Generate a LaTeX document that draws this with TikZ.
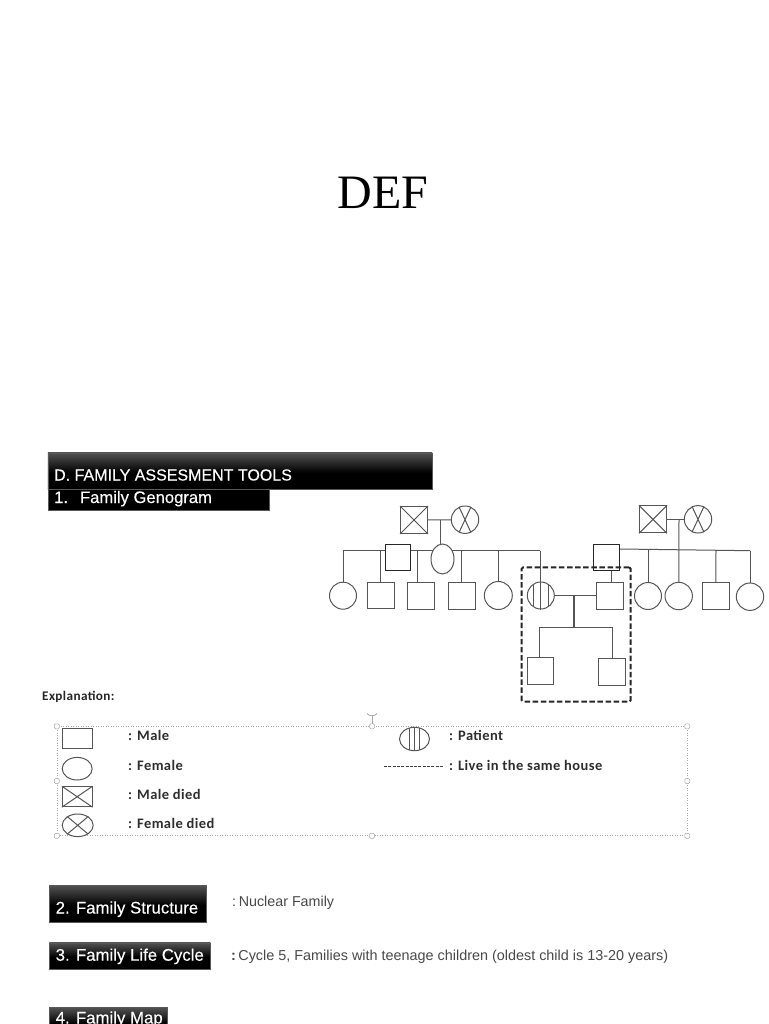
\documentclass[tikz,border=0pt]{standalone}
\usepackage{fontspec}
\setmainfont{Liberation Sans}
\newfontfamily\titlefont{Liberation Serif}
\newfontfamily\legendfont[LetterSpace=3]{Carlito}
\newfontfamily\barfont[FakeBold=0.35]{Liberation Sans}
\usetikzlibrary{shapes.geometric,backgrounds}
\definecolor{linegray}{HTML}{555555}
\definecolor{bodygray}{HTML}{484848}
\definecolor{legendtext}{HTML}{2E2E2E}
\pgfdeclareverticalshading{barshade}{100bp}{
  color(0bp)=(black); color(48bp)=(black); color(75bp)=(black!68); color(100bp)=(black!68)}
\tikzset{
  sq/.style={rectangle,draw=linegray,fill=white,line width=1pt,minimum size=#1,inner sep=0pt},
  sqdark/.style={rectangle,draw=black!85,fill=white,line width=1pt,minimum size=#1,inner sep=0pt},
  circ/.style={circle,draw=linegray,fill=white,line width=1pt,minimum size=#1,inner sep=0pt},
  ell/.style n args={2}{ellipse,draw=linegray,fill=white,line width=1pt,minimum width=#1,minimum height=#2,inner sep=0pt},
  conn/.style={draw=linegray,line width=1pt},
  darkbar/.style n args={2}{rectangle,anchor=north west,minimum width=#1,minimum height=#2,inner sep=0pt,shading=barshade,draw=black!65,line width=.3pt},
  flatbar/.style n args={2}{rectangle,anchor=north west,minimum width=#1,minimum height=#2,inner sep=0pt,fill=black,draw=black!65,line width=.3pt},
  barlabel/.style={anchor=base west,text=white,inner sep=0pt,font=\barfont\fontsize{#1}{#1}\selectfont},
  bodytext/.style={anchor=base west,text=bodygray,inner sep=0pt,font=\fontsize{#1}{#1}\selectfont},
  legendlabel/.style={anchor=base west,text=legendtext,inner sep=0pt,font=\legendfont\bfseries\fontsize{14.5}{14.5}\selectfont},
  handle/.style={rectangle,rounded corners=1.2pt,draw=black!35,fill=white,line width=.5pt,minimum size=5pt,inner sep=0pt},
  legendline/.style={draw=linegray,line width=1pt},
}
\begin{document}
\begin{tikzpicture}[x=1pt,y=-1pt]
\useasboundingbox (0,0) rectangle (768,1024);
\clip (0,0) rectangle (768,1024);
\node[anchor=center,inner sep=0pt,font=\titlefont\fontsize{48}{48}\selectfont] (title) at (383,192.5) {DEF};

% headers
\node[flatbar={221pt}{20.7pt}] (hdrB) at (47.7,489.3) {};
\node[darkbar={384.3pt}{36.6pt}] (hdrA) at (47.7,452.7) {};
\node[barlabel=16] (hdrAt) at (54,480.5) {D. FAMILY ASSESMENT TOOLS};
\node[barlabel=16.6] (hdrBt) at (54,503) {1.\hspace{12pt}Family Genogram};

% left grandparents
\node[sq=27pt] (gfL) at (414,520) {};
\draw[conn] (gfL.north west) -- (gfL.south east) (gfL.north east) -- (gfL.south west);
\node[circ=27.4pt] (gmL) at (465,519.7) {};
\draw[conn] (gmL.65) -- (gmL.-115) (gmL.115) -- (gmL.-65);
\coordinate (jL) at (440,519.7);
% right grandparents
\node[sq=27pt] (gfR) at (653,519.3) {};
\draw[conn] (gfR.north west) -- (gfR.south east) (gfR.north east) -- (gfR.south west);
\node[circ=27.4pt] (gmR) at (698,519.3) {};
\draw[conn] (gmR.65) -- (gmR.-115) (gmR.115) -- (gmR.-65);
\coordinate (jR) at (679,519.3);

% parents generation
\node[sqdark=25.6pt] (uncle) at (398,557.5) {};
\node[ell={23pt}{30pt}] (aunt) at (442.5,559) {};
\node[sqdark=26pt] (rightfather) at (606.7,557.5) {};

% children row left
\node[circ=27pt] (a1) at (343,595.7) {};
\node[sq=26.5pt] (a2) at (380.8,595.5) {};
\node[sq=27pt] (a3) at (421.3,595.5) {};
\node[sq=27pt] (a4) at (461.7,595.5) {};
\node[circ=28pt] (a5) at (498.3,595.5) {};
\node[circ=27pt] (patient) at (540.8,595.5) {};
\node[sq=27pt] (husband) at (609.5,595.5) {};
% children row right
\node[circ=27pt] (b1) at (648,596) {};
\node[circ=27.4pt] (b2) at (678.7,596) {};
\node[sq=27pt] (b3) at (715.7,596.3) {};
\node[circ=27.4pt] (b4) at (750,596.7) {};
% nuclear children
\node[sq=26.7pt] (k1) at (540.5,671) {};
\node[sq=27pt] (k2) at (611.7,672) {};

% patient stripes
\draw[conn] (patient.122) -- (patient.-122) (patient.90) -- (patient.-90) (patient.58) -- (patient.-58);

\begin{scope}[on background layer]
  \coordinate (sL) at (343,550.7);
  \coordinate (sR) at (540,550.7);
  \coordinate (s2) at (380.8,550.7);
  \coordinate (s3) at (417.7,550.7);
  \coordinate (s4) at (461,550.7);
  \coordinate (s5) at (498.7,550.7);
  \draw[conn] (gfL) -- (gmL);
  \draw[conn] (jL) -- (aunt.north -| jL);
  \draw[conn] (sL) -- (sR);
  \draw[conn] (sL) -- (a1);
  \draw[conn] (s2) -- (a2);
  \draw[conn] (s3) -- (s3 |- a3.north);
  \draw[conn] (s4) -- (s4 |- a4.north);
  \draw[conn] (s5) -- (s5 |- a5.north);
  \draw[conn] (sR) -- (sR |- patient.north);
  \coordinate (tR) at (750,550.7);
  \coordinate (t1) at (648,549.9);
  \coordinate (t3) at (716,550.7);
  \draw[conn] (gfR) -- (gmR);
  \draw[conn] (jR) -- (b2);
  \draw[conn] (rightfather.east |- 0,549) -- (tR);
  \draw[conn] (t1) -- (b1);
  \draw[conn] (t3) -- (b3);
  \draw[conn] (tR) -- (b4);
  \coordinate (hj) at (611.7,570.5);
  \draw[conn] (hj) -- (hj |- husband.north);
  \coordinate (cj) at (574,595.6);
  \coordinate (cb) at (574,627);
  \coordinate (cL) at (539.7,627);
  \coordinate (cR) at (612,627);
  \draw[conn,line width=1.2pt] (patient) -- (husband);
  \draw[conn,line width=1.2pt] (cj) -- (cb);
  \draw[conn] (cL) -- (cR);
  \draw[conn] (cL) -- (cL |- k1.north);
  \draw[conn] (cR) -- (cR |- k2.north);
\end{scope}

\node[rectangle,draw=black!85,line width=2pt,dash pattern=on 5.5pt off 2.6pt,rounded corners=1.5pt,minimum width=109pt,minimum height=134.4pt,inner sep=0pt] (house) at (576.2,634.5) {};

% explanation
\node[anchor=base west,inner sep=0pt,text=black!85,font=\legendfont\bfseries\fontsize{13.2}{13.2}\selectfont] (expl) at (42,700) {Explanation:};

% legend frame
\node[rectangle,draw=black!35,line width=.5pt,dotted,minimum width=630pt,minimum height=109pt,inner sep=0pt] (frame) at (372,781) {};
\node[handle] (h1) at (frame.north west) {};
\node[handle] (h2) at (frame.north) {};
\node[handle] (h3) at (frame.north east) {};
\node[handle] (h4) at (frame.west) {};
\node[handle] (h5) at (frame.east) {};
\node[handle] (h6) at (frame.south west) {};
\node[handle] (h7) at (frame.south) {};
\node[handle] (h8) at (frame.south east) {};
\coordinate (rot) at (372,716);
\draw[draw=black!35,line width=.6pt] (rot) -- (h2);
\draw[draw=black!35,line width=.8pt] (367,713.5) .. controls (369,716.5) and (375,716.5) .. (377,713.5);

% legend symbols
\node[sq=10pt,legendline,minimum width=29.7pt,minimum height=19.6pt] (lm) at (77.2,738.5) {};
\node[ell={30pt}{22.6pt},legendline] (lf) at (77.2,768.7) {};
\node[sq=10pt,legendline,minimum width=29.7pt,minimum height=20pt] (lmd) at (77.2,796.7) {};
\draw[legendline] (lmd.north west) -- (lmd.south east) (lmd.north east) -- (lmd.south west);
\node[ell={31pt}{22.6pt},legendline] (lfd) at (77.7,825.3) {};
\draw[legendline] (lfd.40) -- (lfd.220) (lfd.140) -- (lfd.-40);
\node[ell={30pt}{23.4pt},legendline] (lp) at (414.5,739) {};
\draw[legendline] (lp.115) -- (lp.-115) (lp.90) -- (lp.-90) (lp.65) -- (lp.-65);
\coordinate (lhA) at (384,766);
\coordinate (lhB) at (443,766);
\draw[draw=black!75,line width=.6pt,dash pattern=on 3pt off 1.3pt] (lhA) -- (lhB);

\node[legendlabel] (t1m) at (128,740) {: Male};
\node[legendlabel] (t1f) at (128,770) {: Female};
\node[legendlabel] (t1md) at (128,799) {: Male died};
\node[legendlabel] (t1fd) at (128,828) {: Female died};
\node[legendlabel] (t1p) at (449,740) {: Patient};
\node[legendlabel] (t1l) at (449,770) {: Live in the same house};

% lower sections
\node[darkbar={156.7pt}{36.4pt}] (bar2) at (49.3,885.3) {};
\node[barlabel=16.8] (bar2t) at (55.5,913.5) {2. Family Structure};
\node[bodytext=14.3] (txt2) at (232,906) {:\hspace{2.6pt}Nuclear Family};
\node[darkbar={161pt}{26.3pt}] (bar3) at (49.3,942.7) {};
\node[barlabel=16.8] (bar3t) at (55.5,960.7) {3. Family Life Cycle};
\node[bodytext=14.4] (txt3) at (231,960.3) {\textbf{:}\hspace{2.4pt}Cycle 5, Families with teenage children (oldest child is 13-20 years)};
\node[darkbar={117.4pt}{30pt}] (bar4) at (49.3,1007.3) {};
\node[barlabel=16.8] (bar4t) at (55.5,1023.5) {4. Family Map};
\end{tikzpicture}
\end{document}
